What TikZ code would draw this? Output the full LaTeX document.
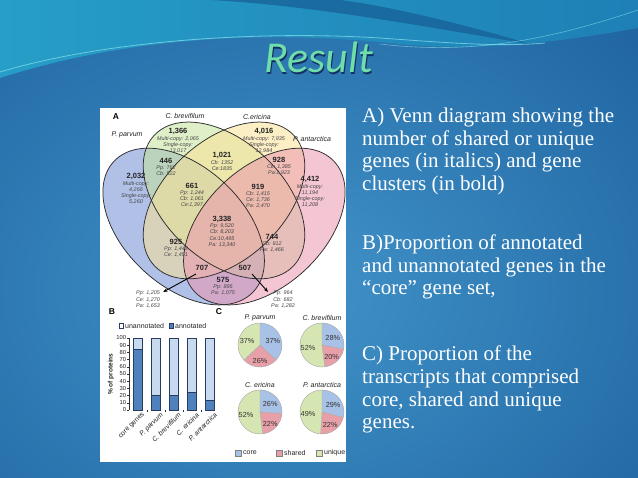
\documentclass[tikz,border=0pt]{standalone}
\usepackage{fontspec}
\setmainfont{Liberation Serif}
\setsansfont{Liberation Sans}
\newfontfamily\titlefont{Carlito}
\usetikzlibrary{arrows.meta,positioning}
\definecolor{bgA}{RGB}{66,148,202}
\definecolor{bgB}{RGB}{34,104,164}
\definecolor{bgC}{RGB}{10,56,102}
\definecolor{swA}{RGB}{38,158,200}
\definecolor{swB}{RGB}{30,128,182}
\definecolor{swdark}{RGB}{20,80,135}
\definecolor{swlite}{RGB}{140,225,235}
\definecolor{mint}{RGB}{112,222,168}
\definecolor{vblue}{RGB}{113,142,213}
\definecolor{vgreen}{RGB}{197,227,155}
\definecolor{vyellow}{RGB}{250,225,150}
\definecolor{vpink}{RGB}{236,150,175}
\definecolor{vline}{RGB}{45,45,45}
\definecolor{vtext}{RGB}{35,35,35}
\definecolor{barlight}{RGB}{200,218,240}
\definecolor{bardark}{RGB}{79,129,189}
\definecolor{barline}{RGB}{40,60,95}
\definecolor{picore}{RGB}{168,193,230}
\definecolor{pishared}{RGB}{232,160,168}
\definecolor{piunique}{RGB}{214,230,178}
\pgfdeclareradialshading{bgshade}{\pgfpoint{0bp}{0bp}}{color(0bp)=(bgA); color(25bp)=(bgB); color(50bp)=(bgC)}
\tikzset{
  rtext/.style={font=\fontsize{21}{23}\selectfont, text=white, anchor=base west, inner sep=0},
  vnum/.style={font=\sffamily\bfseries\fontsize{7.5}{7.5}\selectfont, text=vtext, inner sep=0},
  vsub/.style={font=\sffamily\itshape\fontsize{5.4}{6.1}\selectfont, text=vtext!85, inner sep=0, align=center},
  vset/.style={font=\sffamily\itshape\fontsize{7}{7.5}\selectfont, text=vtext, inner sep=0},
  plabel/.style={font=\sffamily\bfseries\fontsize{8.5}{8.5}\selectfont, text=black, inner sep=0},
  vfill/.style={fill opacity=0.55},
  vedge/.style={draw=vline, line width=0.75},
  varrow/.style={-{Stealth[length=4.5pt,width=3.5pt]}, line width=0.9, black},
  barbox/.style={draw=barline, line width=0.5, fill=barlight},
  barann/.style={draw=barline, line width=0.5, fill=bardark},
  axisline/.style={draw=black!80, line width=0.5},
  ticklab/.style={font=\sffamily\fontsize{5.8}{5.8}\selectfont, text=vtext, inner sep=0, anchor=east},
  xlab/.style={font=\sffamily\fontsize{6.8}{6.8}\selectfont, text=vtext, inner sep=0, anchor=north east, rotate=45},
  legtxt/.style={font=\sffamily\fontsize{7}{7}\selectfont, text=vtext, inner sep=0, anchor=west},
  legbox/.style={draw=barline, line width=0.5, minimum size=4.5pt, inner sep=0},
  pct/.style={font=\sffamily\fontsize{7.3}{7.3}\selectfont, text=black!80, inner sep=0},
  pieline/.style={draw=black!35, line width=0.4},
  pleg/.style={draw=black!50, line width=0.4, minimum size=5.5pt, inner sep=0},
}
\newcommand{\pieslices}[3]{%
  \pgfmathsetmacro{\pa}{90-3.6*#1}%
  \pgfmathsetmacro{\pb}{\pa-3.6*#2}%
  \pgfmathsetmacro{\ma}{(90+\pa)/2}%
  \pgfmathsetmacro{\mb}{(\pa+\pb)/2}%
  \pgfmathsetmacro{\mc}{(\pb-270)/2}%
  \fill[picore] (0,0) -- (90:22) arc[start angle=90, end angle=\pa, radius=22] -- cycle;
  \fill[pishared] (0,0) -- (\pa:22) arc[start angle=\pa, end angle=\pb, radius=22] -- cycle;
  \fill[piunique] (0,0) -- (\pb:22) arc[start angle=\pb, end angle=-270, radius=22] -- cycle;
  \draw[pieline] (0,0) circle[radius=22];
  \draw[pieline] (90:22) -- (0,0) -- (\pa:22) (0,0) -- (\pb:22);
  \path (\ma:14) ++(0,-2) node[pct] {#1\%};
  \path (\mb:14) ++(0,-2) node[pct] {#2\%};
  \path (\mc:14) ++(0,-2) node[pct] {#3\%};
}
\begin{document}
\begin{tikzpicture}[x=1pt,y=-1pt]
\useasboundingbox (0,0) rectangle (638,478);
\clip (0,0) rectangle (638,478);
% ---------- background
\shade[shading=bgshade] (-180,-70) rectangle (740,650);
\shade[left color=swA, right color=swB] (0,0) -- (638,0) -- (638,28)
  .. controls (560,42) and (480,52) .. (400,44)
  .. controls (300,33) and (150,30) .. (0,78) -- cycle;
\fill[swdark, opacity=0.55] (210,0) .. controls (320,6) and (430,28) .. (530,44)
  .. controls (470,26) and (390,6) .. (340,0) -- cycle;
\draw[swlite, line width=0.8, opacity=0.7] (0,72) .. controls (100,42) and (250,30) .. (380,38)
  .. controls (450,43) and (500,47) .. (545,43);
\draw[swlite, line width=0.6, opacity=0.6] (380,44) .. controls (480,56) and (560,36) .. (638,10);
% ---------- title
\node[font=\titlefont\itshape\fontsize{44}{44}\selectfont, text=black!80!blue, opacity=0.6] (titleshadow) at (320,59) {Result};
\node[font=\titlefont\itshape\fontsize{44}{44}\selectfont, text=mint] (title) at (318.5,57.5) {Result};
% ---------- right text
\node[rtext] (ta1) at (362,123) {A) Venn diagram showing the};
\node[rtext] (ta2) at (362,145.5) {number of shared or unique};
\node[rtext] (ta3) at (362,168) {genes (in italics) and gene};
\node[rtext] (ta4) at (362,190.5) {clusters (in bold)};
\node[rtext] (tb1) at (362,250) {B)Proportion of annotated};
\node[rtext] (tb2) at (362,272.5) {and unannotated genes in the};
\node[rtext] (tb3) at (362,295) {“core” gene set,};
\node[rtext] (tc1) at (362,361) {C) Proportion of the};
\node[rtext] (tc2) at (362,384) {transcripts that comprised};
\node[rtext] (tc3) at (362,406.5) {core, shared and unique};
\node[rtext] (tc4) at (362,429) {genes.};
% ---------- white panel
\fill[white] (100,108) rectangle (346,462);
% ---------- Venn
\begin{scope}[shift={(224,213.5)}, xscale=2.69, yscale=2.61, x=100pt, y=100pt]
  \fill[vblue, vfill, rotate around={-45:(-0.15,-0.05)}] (-0.15,-0.05) ellipse [x radius=0.36, y radius=0.225];
  \fill[vgreen, vfill, rotate around={-45:(0,0.05)}] (0,0.05) ellipse [x radius=0.36, y radius=0.225];
  \fill[vyellow, vfill, rotate around={45:(0,0.05)}] (0,0.05) ellipse [x radius=0.36, y radius=0.225];
  \fill[vpink, vfill, rotate around={45:(0.15,-0.05)}] (0.15,-0.05) ellipse [x radius=0.36, y radius=0.225];
  \draw[vedge, rotate around={-45:(-0.15,-0.05)}] (-0.15,-0.05) ellipse [x radius=0.36, y radius=0.225];
  \draw[vedge, rotate around={-45:(0,0.05)}] (0,0.05) ellipse [x radius=0.36, y radius=0.225];
  \draw[vedge, rotate around={45:(0,0.05)}] (0,0.05) ellipse [x radius=0.36, y radius=0.225];
  \draw[vedge, rotate around={45:(0.15,-0.05)}] (0.15,-0.05) ellipse [x radius=0.36, y radius=0.225];
\end{scope}
\node[plabel] (labA) at (116,117) {A};
\node[vset] (sPp) at (127,135) {P. parvum};
\node[vset] (sCb) at (185,116) {C. brevifilum};
\node[vset] (sCe) at (257,117) {C.ericina};
\node[vset] (sPa) at (312,139) {P. antarctica};
\node[vnum] (n1366) at (178,131) {1,366};
\node[vsub, below=1.5pt of n1366] (d1366) {Multi-copy: 2,065\\Single-copy:\\13,017};
\node[vnum] (n4016) at (264,131) {4,016};
\node[vsub, below=1.5pt of n4016] (d4016) {Multi-copy: 7,935\\Single-copy:\\12,984};
\node[vnum] (n2032) at (136,176) {2,032};
\node[vsub, below=1.5pt of n2032] (d2032) {Multi-copy:\\4,266\\Single-copy:\\5,260};
\node[vnum] (n4412) at (310,179) {4,412};
\node[vsub, below=1.5pt of n4412] (d4412) {Multi-copy:\\11,194\\Single-copy:\\11,208};
\node[vnum] (n446) at (166,161) {446};
\node[vsub, below=1.5pt of n446] (d446) {Pp: 762\\Cb: 522};
\node[vnum] (n928) at (279,160) {928};
\node[vsub, below=1.5pt of n928] (d928) {Ce: 1,385\\Pa:1,923};
\node[vnum] (n1021) at (222,155) {1,021};
\node[vsub, below=1.5pt of n1021] (d1021) {Cb: 1352\\Ce:1835};
\node[vnum] (n661) at (192,186) {661};
\node[vsub, below=1.5pt of n661] (d661) {Pp: 1,244\\Cb: 1,061\\Ce:1,397};
\node[vnum] (n919) at (258,187) {919};
\node[vsub, below=1.5pt of n919] (d919) {Cb: 1,415\\Ce: 1,736\\Pa: 2,470};
\node[vnum] (n3338) at (222,219) {3,338};
\node[vsub, below=1.5pt of n3338] (d3338) {Pp: 9,520\\Cb: 8,203\\Ce:10,495\\Pa: 13,340};
\node[vnum] (n925) at (176,242) {925};
\node[vsub, below=1.5pt of n925] (d925) {Pp: 1,443\\Ce: 1,451};
\node[vnum] (n744) at (272,237) {744};
\node[vsub, below=1.5pt of n744] (d744) {Cb: 912\\Pa: 1,466};
\node[vnum] (n707) at (202,268) {707};
\node[vnum] (n507) at (245,268) {507};
\node[vnum] (n575) at (223,280) {575};
\node[vsub, below=1.5pt of n575] (d575) {Pp: 895\\Pa: 1,075};
\node[vsub, anchor=north] (annL) at (148,291) {Pp: 1,205\\Ce: 1,270\\Pa: 1,653};
\node[vsub, anchor=north] (annR) at (283,291) {Pp: 964\\Cb: 682\\Pa: 1,282};
\coordinate (tailL) at (196,274);
\coordinate (tailR) at (252,274);
\draw[varrow] (tailL) -- ([xshift=3pt,yshift=-1pt]annL.north east);
\draw[varrow] (tailR) -- ([xshift=-3pt,yshift=-1pt]annR.north west);
% ---------- bar chart
\node[plabel] (labB) at (112,312) {B};
\node[legbox, fill=white] (lb1) at (121,326) {};
\node[legtxt, right=1.5pt of lb1] (lt1) {unannotated};
\node[legbox, fill=bardark] (lb2) at (171,326) {};
\node[legtxt, right=1.5pt of lb2] (lt2) {annotated};
\draw[axisline] (129,338) -- (129,410);
\foreach \k in {0,1,...,10} {
  \draw[axisline] (127,410-7.2*\k) -- (129,410-7.2*\k);
  \pgfmathtruncatemacro{\tv}{10*\k}
  \node[ticklab] (tk\k) at (126.3,410-7.2*\k) {\tv};
}
\node[font=\sffamily\bfseries\fontsize{6.5}{6.5}\selectfont, text=vtext, rotate=90, inner sep=0] (ylab) at (111,374) {\% of proteins};
\foreach \c/\p in {138/85, 156/20, 174/21, 192/25, 210/14} {
  \draw[barbox] (\c-4.5,338) rectangle (\c+4.5,410);
  \draw[barann] (\c-4.5,410-0.72*\p) rectangle (\c+4.5,410);
}
\foreach \t in {147,165,183,201} { \draw[axisline] (\t,410) -- (\t,412); }
\node[xlab] (x1) at (142,412) {core genes};
\node[xlab] (x2) at (160,412) {\itshape P. parvum};
\node[xlab] (x3) at (178,412) {\itshape C. brevifilum};
\node[xlab] (x4) at (196,412) {\itshape C. ericina};
\node[xlab] (x5) at (214,412) {\itshape P. antarctica};
% ---------- pies
\node[plabel] (labC) at (219,312) {C};
\node[vset] (p1t) at (260,318) {P. parvum};
\node[vset] (p2t) at (322,318) {C. brevifilum};
\node[vset] (p3t) at (260,385) {C. ericina};
\node[vset] (p4t) at (322,385) {P. antarctica};
\begin{scope}[shift={(260,345)}, x=1pt, y=1pt] \pieslices{37}{26}{37} \end{scope}
\begin{scope}[shift={(322,345)}, x=1pt, y=1pt] \pieslices{28}{20}{52} \end{scope}
\begin{scope}[shift={(260,412)}, x=1pt, y=1pt] \pieslices{26}{22}{52} \end{scope}
\begin{scope}[shift={(322,412)}, x=1pt, y=1pt] \pieslices{29}{22}{49} \end{scope}
\node[pleg, fill=picore] (pl1) at (238,453) {};
\node[legtxt, right=2pt of pl1] (plt1) {core};
\node[pleg, fill=pishared] (pl2) at (279,453) {};
\node[legtxt, right=2pt of pl2] (plt2) {shared};
\node[pleg, fill=piunique] (pl3) at (319,453) {};
\node[legtxt, right=2pt of pl3] (plt3) {unique};
\end{tikzpicture}
\end{document}
